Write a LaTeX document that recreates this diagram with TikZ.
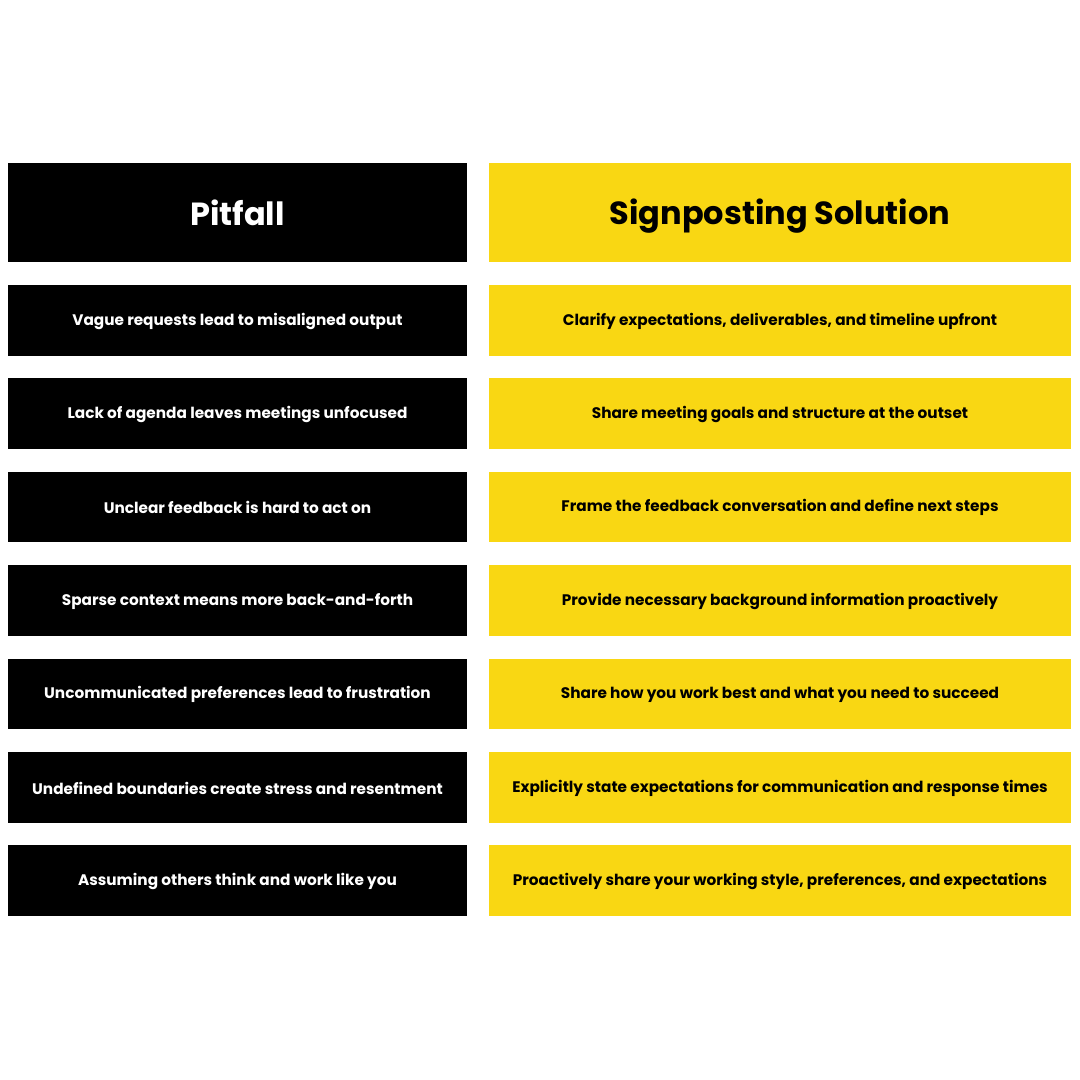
\documentclass[tikz,border=0pt]{standalone}
\usepackage{fontspec}
\setmainfont{Poppins}
\definecolor{ylw}{HTML}{F9D713}
\begin{document}
\begin{tikzpicture}[x=1pt,y=-1pt,
 lbox/.style={text=white,font=\fontsize{15.3}{18}\selectfont\bfseries},
 rbox/.style={text=black,font=\fontsize{15.3}{18}\selectfont\bfseries}]
\useasboundingbox (0,0) rectangle (1080,1080);
\fill[white] (0,0) rectangle (1080,1080);
\fill[black] (8,163) rectangle (467,262);
\fill[ylw] (489,163) rectangle (1071,262);
\node[text=white,font=\fontsize{32}{38}\selectfont\bfseries] (hl) at (237.5,213) {Pitfall};
\node[text=black,font=\fontsize{32}{38}\selectfont\bfseries] (hr) at (780,216) {Signposting Solution};
\foreach \i/\a/\b in {
0/Vague requests lead to misaligned output/{Clarify expectations, deliverables, and timeline upfront},
1/Lack of agenda leaves meetings unfocused/Share meeting goals and structure at the outset,
2/Unclear feedback is hard to act on/Frame the feedback conversation and define next steps,
3/Sparse context means more back-and-forth/Provide necessary background information proactively,
4/Uncommunicated preferences lead to frustration/Share how you work best and what you need to succeed,
5/Undefined boundaries create stress and resentment/Explicitly state expectations for communication and response times,
6/Assuming others think and work like you/{Proactively share your working style, preferences, and expectations}}{
 \pgfmathsetmacro\t{285+93.4*\i}
 \fill[black] (8,\t) rectangle (467,\t+70.5);
 \fill[ylw] (489,\t) rectangle (1071,\t+70.5);
 \node[lbox] (l\i) at (237.5,\t+36) {\a};
 \node[rbox] (r\i) at (780,\t+36) {\b};
}
\end{tikzpicture}
\end{document}
